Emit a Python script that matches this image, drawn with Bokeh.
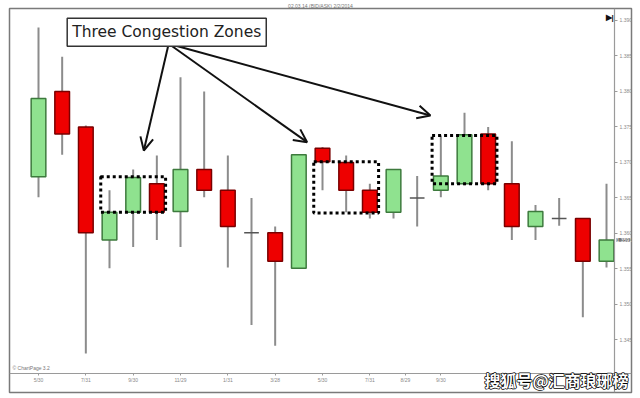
from bokeh.plotting import figure
from bokeh.models import (Range1d, FixedTicker, Label, Arrow, OpenHead, Title,
                          PrintfTickFormatter, ColumnDataSource)
from bokeh.embed import file_html
from bokeh.resources import INLINE

# ---- data ----
opens  = [1.3680, 1.3800, 1.3750, 1.3591, 1.3630, 1.3670, 1.3631, 1.3690, 1.3661, 1.3601,
          1.3601, 1.3551, 1.3720, 1.3700, 1.3661, 1.3630, 1.3650, 1.3661, 1.3670, 1.3740,
          1.3670, 1.3610, 1.3621, 1.3621, 1.3561]
highs  = [1.3890, 1.3849, 1.3752, 1.3661, 1.3690, 1.3710, 1.3820, 1.3800, 1.3710, 1.3650,
          1.3610, 1.3712, 1.3722, 1.3710, 1.3670, 1.3690, 1.3681, 1.3738, 1.3770, 1.3750,
          1.3730, 1.3640, 1.3650, 1.3621, 1.3670]
lows   = [1.3651, 1.3711, 1.3431, 1.3551, 1.3581, 1.3591, 1.3581, 1.3651, 1.3552, 1.3471,
          1.3442, 1.3550, 1.3661, 1.3630, 1.3621, 1.3621, 1.3610, 1.3651, 1.3668, 1.3661,
          1.3591, 1.3591, 1.3611, 1.3482, 1.3552]
closes = [1.3790, 1.3740, 1.3601, 1.3630, 1.3679, 1.3630, 1.3690, 1.3661, 1.3610, 1.3601,
          1.3561, 1.3711, 1.3701, 1.3661, 1.3630, 1.3690, 1.3650, 1.3681, 1.3739, 1.3670,
          1.3610, 1.3631, 1.3621, 1.3561, 1.3591]

zone_start = [3, 12, 17]
zone_end   = [5, 14, 19]
zone_low   = [1.3630, 1.3629, 1.3670]
zone_high  = [1.3680, 1.3701, 1.3738]

y_ticks = [1.3450, 1.3500, 1.3550, 1.3600, 1.3650, 1.3700, 1.3750, 1.3800, 1.3850, 1.3900]
x_tick_pos = [0, 2, 4, 6, 8, 10, 12, 14, 15.5, 17]
x_tick_labels = ["5/30", "7/31", "9/30", "11/29", "1/31", "3/28", "5/30", "7/31", "8/29", "9/30"]

annotation_text = "Three Congestion Zones"
arrow_start = (5.5, 1.38672)
arrow_ends = [(4.45, 1.37169), (11.35, 1.37286), (16.56, 1.37662)]

# where the price axis and the time axis sit inside the chart box
price_axis_x = 24.338
time_axis_y = 1.34028

# ---- figure ----
p = figure(width=640, height=398, output_backend="svg", toolbar_location=None,
           x_range=Range1d(-1.2254, 25.056), y_range=Range1d(1.337604, 1.391690),
           y_axis_location="right",
           min_border_left=9, min_border_right=9, min_border_top=6, min_border_bottom=6)
p.background_fill_color = "white"
p.border_fill_color = "white"
p.xgrid.grid_line_color = None
p.ygrid.grid_line_color = None
p.outline_line_color = "#7a7a7a"
p.outline_line_width = 1.5

for ax in (p.xaxis[0], p.yaxis[0]):
    ax.axis_line_color = "#9a9a9a"
    ax.axis_line_width = 1.2
    ax.major_tick_line_color = "#9a9a9a"
    ax.minor_tick_line_color = None
    ax.major_tick_in = 0
    ax.major_label_text_font_size = "5px"
    ax.major_label_text_color = "#8a8a8a"
p.yaxis.major_tick_out = 3
p.yaxis.major_label_standoff = 2
p.xaxis.major_tick_out = 2
p.xaxis.major_label_standoff = 1

p.yaxis.ticker = FixedTicker(ticks=y_ticks)
p.yaxis.formatter = PrintfTickFormatter(format="%.4f")
p.xaxis.ticker = FixedTicker(ticks=x_tick_pos)
p.xaxis.major_label_overrides = {t: l for t, l in zip(x_tick_pos, x_tick_labels)}
p.yaxis.fixed_location = price_axis_x
p.xaxis.fixed_location = time_axis_y

# ---- candles ----
idx = list(range(len(opens)))
up_col, up_line = "#8fe28f", "#3d7a3d"
dn_col, dn_line = "#ee0000", "#7a0000"

wick_src = ColumnDataSource(dict(x=idx, lo=lows, hi=highs))
p.segment(x0="x", y0="lo", x1="x", y1="hi", source=wick_src, line_color="#8c8c8c", line_width=2)

body = dict(x=[], top=[], bottom=[], fill=[], line=[])
doji = dict(x0=[], x1=[], y=[])
for i, o, c in zip(idx, opens, closes):
    if abs(o - c) < 1e-9:
        doji["x0"].append(i - 0.31)
        doji["x1"].append(i + 0.31)
        doji["y"].append(o)
    else:
        body["x"].append(i)
        body["top"].append(max(o, c))
        body["bottom"].append(min(o, c))
        body["fill"].append(up_col if c > o else dn_col)
        body["line"].append(up_line if c > o else dn_line)

p.vbar(x="x", width=0.62, top="top", bottom="bottom", source=ColumnDataSource(body),
       fill_color="fill", line_color="line", line_width=1.5)
p.segment(x0="x0", y0="y", x1="x1", y1="y", source=ColumnDataSource(doji),
          line_color="#555555", line_width=1.5)

# ---- congestion zones ----
zsrc = ColumnDataSource(dict(left=[s - 0.37 for s in zone_start],
                             right=[e + 0.37 for e in zone_end],
                             top=zone_high, bottom=zone_low))
p.quad(left="left", right="right", top="top", bottom="bottom", source=zsrc,
       fill_color=None, line_color="black", line_width=3, line_dash="3 3")

# ---- annotation ----
for ex, ey in arrow_ends:
    p.add_layout(Arrow(end=OpenHead(size=13, line_width=2, line_color="#111111"),
                       x_start=arrow_start[0], y_start=arrow_start[1], x_end=ex, y_end=ey,
                       line_width=2, line_color="#111111"))

p.add_layout(Label(x=57.7, y=374.3, x_units="screen", y_units="screen",
                   text=annotation_text, anchor="top_left",
                   text_font="DejaVu Sans", text_font_size="15.5px", text_color="#222222",
                   border_line_color="#333333", border_line_width=1.5,
                   background_fill_color="white", padding=5))

# small texts
p.add_layout(Title(text="02.03.14 (BID/ASK) 2/2/2014", text_font_size="5px",
                   text_font_style="normal", text_color="#777777", align="center",
                   standoff=0), "above")
p.add_layout(Label(x=3, y=21.5, x_units="screen", y_units="screen",
                   text="© ChartPage 3.2", text_font_size="5px", text_color="#777777"))
p.add_layout(Label(x=596, y=375.5, x_units="screen", y_units="screen",
                   text="▶|", text_font_size="8px", text_font_style="bold",
                   text_color="#111111", text_align="left", text_baseline="middle"))
p.add_layout(Label(x=607, y=closes[-1], x_units="screen", y_units="data",
                   text="%.4f" % closes[-1], text_font_size="5px", text_color="white",
                   background_fill_color="#777777", text_baseline="middle"))

# watermark: white characters with a dark rim
p.add_layout(Label(x=619, y=13, x_units="screen", y_units="screen",
                   text="搜狐号@汇商琅琊榜", text_font="Noto Sans CJK SC",
                   text_font_size="16px", text_font_style="bold",
                   text_color="black", text_outline_color="black",
                   text_align="right", text_baseline="middle"))
p.add_layout(Label(x=619, y=13, x_units="screen", y_units="screen",
                   text="搜狐号@汇商琅琊榜", text_font="Noto Sans CJK SC",
                   text_font_size="16px", text_font_style="bold",
                   text_color="white",
                   text_align="right", text_baseline="middle"))

open("out.html", "w").write(file_html(p, INLINE))
